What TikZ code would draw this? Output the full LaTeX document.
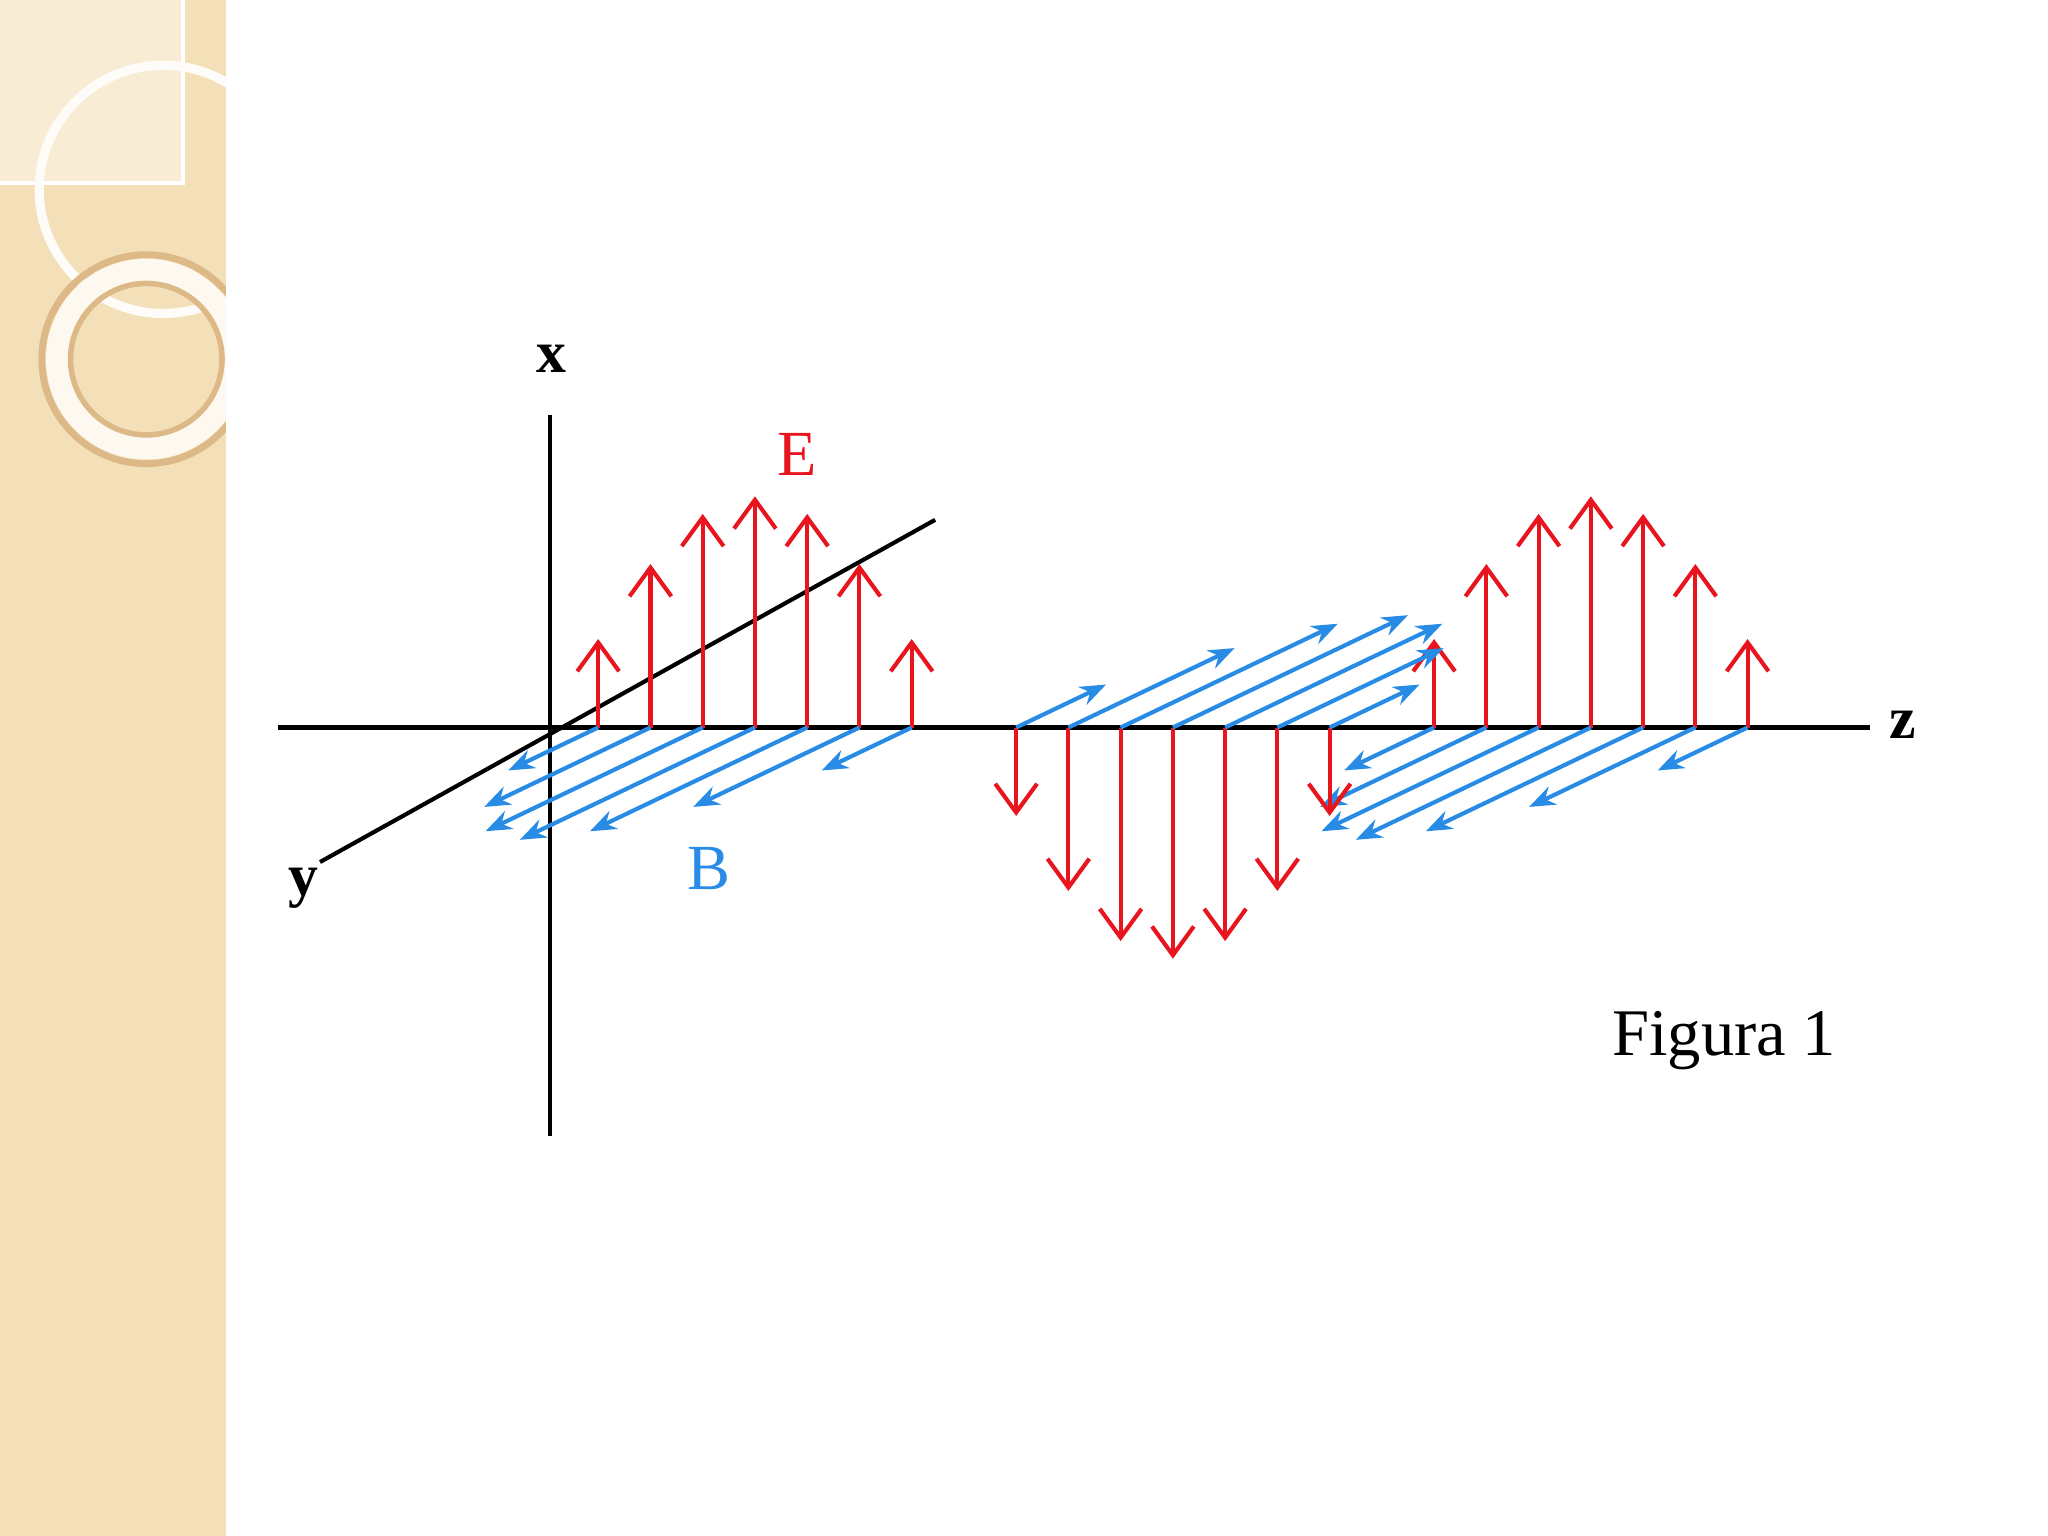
\documentclass[tikz,border=0pt]{standalone}
\usepackage{fontspec}
\setmainfont{Liberation Serif}
\usetikzlibrary{arrows.meta}
\definecolor{beige}{RGB}{243,224,184}
\definecolor{ered}{RGB}{232,20,30}
\definecolor{bblue}{RGB}{40,140,230}
\begin{document}
\begin{tikzpicture}[x=0.01cm,y=-0.01cm,
  ax/.style={line width=0.9pt,black},
  earrow/.style={line width=0.9pt,ered,-{Straight Barb[length=0.22cm,width=0.32cm,line width=0.9pt]}},
  barrow/.style={line width=0.9pt,bblue,-{Stealth[length=0.2cm,width=0.15cm]}},
  lbl/.style={font=\bfseries\fontsize{13}{14}\selectfont}]
\useasboundingbox (0,0) rectangle (1568,1176);
\fill[white] (0,0) rectangle (1568,1176);
% left strip
\begin{scope}
\clip (0,0) rectangle (173,1176);
\fill[beige] (0,0) rectangle (173,1176);
\fill[beige!60!white] (0,0) rectangle (140,140);
\draw[white,line width=0.8pt] (0,140) -- (140,140) -- (140,0);
\draw[white!90!beige,line width=2pt] (125,145) circle (95);
\draw[beige!60!brown,line width=1.5pt] (112,275) circle (80);
\draw[white!80!beige,line width=5pt] (112,275) circle (68);
\draw[beige!60!brown,line width=1.2pt] (112,275) circle (58);
\end{scope}
% axes
\coordinate (xt) at (421,318); \coordinate (xb) at (421,870);
\coordinate (zl) at (213,557); \coordinate (zr) at (1432,557);
\coordinate (ya) at (245,660); \coordinate (yb) at (716,398);
\draw[ax] (xt) -- (xb);
\draw[ax] (zl) -- (zr);
\draw[ax] (ya) -- (yb);
\node[lbl] (xl) at (422,275) {x};
\node[lbl] (zlab) at (1457,555) {z};
\node[lbl] (yl) at (232,680) {y};
\node[ered,font=\fontsize{14}{15}\selectfont] (El) at (610,348) {E};
\node[bblue,font=\fontsize{14}{15}\selectfont] (Bl) at (543,665) {B};
\node[font=\fontsize{14.5}{16}\selectfont] (fig) at (1320,797) {Figura 1};
% waves
\foreach \k/\s in {1/0.3827,2/0.7071,3/0.9239,4/1,5/0.9239,6/0.7071,7/0.3827}{
  \coordinate (a\k) at ({418+40*\k},557);
  \draw[earrow] (a\k) -- ++(0,{-177*\s});
  \draw[barrow] (a\k) -- ++({-0.9*200*\s},{0.43*200*\s});
  \coordinate (m\k) at ({738+40*\k},557);
  \draw[earrow] (m\k) -- ++(0,{177*\s});
  \draw[barrow] (m\k) -- ++({0.9*200*\s},{-0.43*200*\s});
  \coordinate (c\k) at ({1058+40*\k},557);
  \draw[earrow] (c\k) -- ++(0,{-177*\s});
  \draw[barrow] (c\k) -- ++({-0.9*200*\s},{0.43*200*\s});
}
\end{tikzpicture}
\end{document}
